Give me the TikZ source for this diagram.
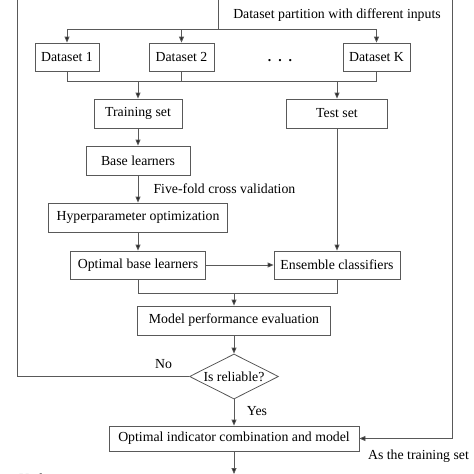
\documentclass[tikz,border=0pt]{standalone}
\usepackage{fontspec}
\setmainfont{Liberation Serif}
\usetikzlibrary{arrows.meta,shapes.geometric}
\tikzset{
	box/.style={draw=black!65, line width=0.8pt, minimum height=29, inner sep=0pt},
	arr/.style={-{Triangle[length=6pt,width=5pt,fill=black!85]}},
	line/.style={draw=black!65, line width=0.8pt}
}

\begin{document}
\begin{tikzpicture}[x=1pt, y=-1pt, font=\fontsize{13.8}{16}\selectfont]
		%%%%% START %%%%%
		\useasboundingbox (0, 0) rectangle (474, 474);
		
		\coordinate (top) at (218, 0);
		\coordinate (split) at (218, 29);
		\coordinate (join1) at (0, 81);
		\coordinate (join2) at (0, 293);
		\coordinate (lefttop) at (17, 0);
		\coordinate (righttop) at (452, 0);
		\coordinate (bottom) at (234, 474);
		
		\node[box, minimum width=64, minimum height=28] (ds1) at (67, 57) {Dataset 1};
		\node[box, minimum width=65, minimum height=28] (ds2) at (181.5, 57) {Dataset 2};
		\node[anchor=base] (dots) at (280, 61) {\textbf{.\,\,\,.\,\,\,.}};
		\node[box, minimum width=67, minimum height=28] (dsK) at (376.5, 57) {Dataset K};
		\node (part) at (337, 15) {Dataset partition with different inputs};
		
		\node[box, minimum width=88] (train) at (138, 113.5) {Training set};
		\node[box, minimum width=101] (test) at (337, 113.5) {Test set};
		\node[box, minimum width=104] (base) at (138, 160.5) {Base learners};
		\node[anchor=west] (cv) at (150, 189) {Five-fold cross validation};
		\node[box, minimum width=179] (hyper) at (138, 217.5) {Hyperparameter optimization};
		\node[box, minimum width=135, minimum height=28] (optbase) at (138, 265) {Optimal base learners};
		\node[box, minimum width=126, minimum height=28] (ens) at (337, 265) {Ensemble classifiers};
		\node[box, minimum width=193] (eval) at (234, 320.5) {Model performance evaluation};
		\node[box, diamond, aspect=2, minimum width=89, minimum height=45] (rel) at (234, 376.5) {Is reliable?};
		\node (no) at (163.5, 364) {No};
		\node (yes) at (257, 411) {Yes};
		\node[box, minimum width=250, minimum height=25] (final) at (234, 438.5) {Optimal indicator combination and model};
		\node (astrain) at (418.5, 456) {As the training set};
		\node[anchor=base west] (update) at (-14, 483) {Data Update};
		
		\draw[line] (top) -- (split);
		\draw[line, arr] (split) -| (ds1);
		\draw[line, arr] (split) -| (ds2);
		\draw[line, arr] (split) -| (dsK);
		
		\draw[line] (ds1) |- (dsK.south |- join1) -- (dsK);
		\draw[line] (ds2) -- (ds2.south |- join1);
		\draw[line, arr] (train.north |- join1) -- (train);
		\draw[line, arr] (test.north |- join1) -- (test);
		
		\draw[line, arr] (train) -- (base);
		\draw[line, arr] (base) -- (hyper);
		\draw[line, arr] (hyper) -- (optbase);
		\draw[line, arr] (test) -- (ens);
		\draw[line, arr] (optbase) -- (ens);
		
		\draw[line] (optbase) |- (ens.south |- join2) -- (ens);
		\draw[line, arr] (eval.north |- join2) -- (eval);
		\draw[line, arr] (eval) -- (rel);
		\draw[line, arr] (rel) -- (final);
		\draw[line] (rel.west) -| (lefttop);
		\draw[line, arr] (righttop) |- (final.east);
		\draw[line, arr] (final) -- (bottom);
		%%%%% END %%%%%
	\end{tikzpicture}
\end{document}
